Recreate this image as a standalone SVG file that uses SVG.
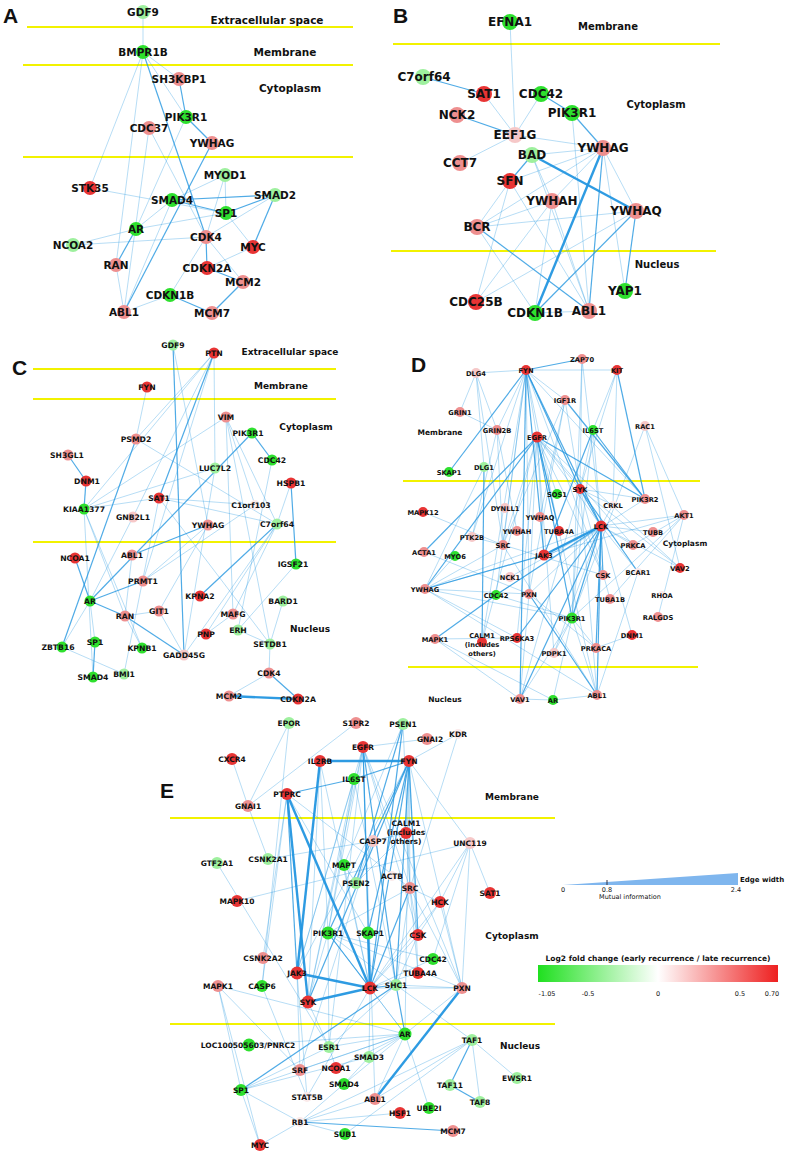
<svg xmlns="http://www.w3.org/2000/svg" width="785" height="1152" viewBox="0 0 785 1152">
<defs>
<linearGradient id="fc" x1="0" x2="1" y1="0" y2="0"><stop offset="0" stop-color="#1fe01f"/><stop offset="0.5" stop-color="#ffffff"/><stop offset="1" stop-color="#ee2020"/></linearGradient>
</defs>
<style>
text{font-family:"DejaVu Sans","Liberation Sans",sans-serif;fill:#111;text-anchor:middle}
.nl text{font-weight:bold}
.A text{font-size:10.5px}.B text{font-size:12px}.C text{font-size:7.7px}.D text{font-size:6.7px}.E text{font-size:7.5px}
.g{fill:#2ee02e}.lg{fill:#9ef09e}.r{fill:#e83434}.p{fill:#ee8f8f}.lp{fill:#f6c8c8}.w{fill:#fbeaea}
.band{stroke:#f2f200;stroke-width:2.2}
.cmp{font-size:10px;font-weight:600}
.let{font-family:"Liberation Sans",Arial,sans-serif;font-weight:bold;font-size:21px;text-anchor:start}
#edges line{stroke:#2396e0;stroke-opacity:0.6}
#edges .t{stroke-width:0.6;stroke-opacity:0.55}#edges .m{stroke-width:1.2;stroke-opacity:0.8}#edges .k{stroke-width:2.4;stroke-opacity:0.95}
</style>
<rect width="785" height="1152" fill="#fff"/>
<!-- bands -->
<g id="bands">
<line class="band" x1="27" y1="27" x2="353" y2="27"/><line class="band" x1="23" y1="65" x2="353" y2="65"/><line class="band" x1="23" y1="157" x2="353" y2="157"/>
<line class="band" x1="393" y1="44" x2="720" y2="44"/><line class="band" x1="391" y1="251" x2="716" y2="251"/>
<line class="band" x1="33" y1="369" x2="336" y2="369"/><line class="band" x1="33" y1="399" x2="336" y2="399"/><line class="band" x1="33" y1="542" x2="336" y2="542"/>
<line class="band" x1="403" y1="481" x2="700" y2="481"/><line class="band" x1="408" y1="667" x2="698" y2="667"/>
<line class="band" x1="170" y1="818" x2="555" y2="818"/><line class="band" x1="170" y1="1024" x2="555" y2="1024"/>
</g>
<g id="labels">
<text class="let" x="3" y="23">A</text><text class="let" x="393" y="23">B</text><text class="let" x="12" y="375">C</text><text class="let" x="411" y="372">D</text><text class="let" x="160" y="798">E</text>
<text class="cmp" x="267" y="24" style="font-size:10.5px">Extracellular space</text><text class="cmp" x="285" y="56" style="font-size:10.5px">Membrane</text><text class="cmp" x="290" y="92" style="font-size:10.5px">Cytoplasm</text>
<text class="cmp" x="608" y="30">Membrane</text><text class="cmp" x="656" y="108">Cytoplasm</text><text class="cmp" x="657" y="268">Nucleus</text>
<text class="cmp" x="290" y="355" style="font-size:9px">Extracellular space</text><text class="cmp" x="281" y="389" style="font-size:9px">Membrane</text><text class="cmp" x="306" y="430" style="font-size:9px">Cytoplasm</text><text class="cmp" x="310" y="632" style="font-size:9px">Nucleus</text>
<text class="cmp" x="440" y="435" style="font-size:7.5px">Membrane</text><text class="cmp" x="685" y="546" style="font-size:7.5px">Cytoplasm</text><text class="cmp" x="445" y="702" style="font-size:7.5px">Nucleus</text>
<text class="cmp" x="512" y="800" style="font-size:9px">Membrane</text><text class="cmp" x="512" y="939" style="font-size:9px">Cytoplasm</text><text class="cmp" x="520" y="1049" style="font-size:9px">Nucleus</text>
</g>
<g id="edges">
<!-- A -->
<line class="t" x1="143" y1="12" x2="143" y2="52"/><line class="t" x1="143" y1="52" x2="179" y2="79"/><line class="t" x1="143" y1="52" x2="90" y2="188"/><line class="t" x1="143" y1="52" x2="116" y2="265"/><line class="m" x1="143" y1="52" x2="206" y2="237"/><line class="t" x1="143" y1="52" x2="186" y2="117"/><line class="m" x1="179" y1="79" x2="186" y2="117"/><line class="m" x1="186" y1="117" x2="212" y2="143"/><line class="t" x1="186" y1="117" x2="136" y2="229"/><line class="t" x1="149" y1="128" x2="124" y2="312"/><line class="t" x1="149" y1="128" x2="206" y2="237"/><line class="m" x1="212" y1="143" x2="124" y2="312"/><line class="t" x1="90" y1="188" x2="226" y2="213"/><line class="m" x1="172" y1="200" x2="275" y2="195"/><line class="m" x1="172" y1="200" x2="226" y2="213"/><line class="t" x1="172" y1="200" x2="225" y2="175"/><line class="t" x1="172" y1="200" x2="136" y2="229"/><line class="m" x1="226" y1="213" x2="275" y2="195"/><line class="m" x1="275" y1="195" x2="253" y2="247"/><line class="t" x1="275" y1="195" x2="206" y2="237"/><line class="t" x1="136" y1="229" x2="226" y2="213"/><line class="t" x1="73" y1="245" x2="136" y2="229"/><line class="t" x1="73" y1="245" x2="206" y2="237"/><line class="m" x1="136" y1="229" x2="116" y2="265"/><line class="t" x1="225" y1="175" x2="226" y2="213"/><line class="t" x1="225" y1="175" x2="206" y2="237"/><line class="t" x1="226" y1="213" x2="253" y2="247"/><line class="m" x1="206" y1="237" x2="207" y2="268"/><line class="t" x1="206" y1="237" x2="243" y2="282"/><line class="m" x1="207" y1="268" x2="243" y2="282"/><line class="t" x1="253" y1="247" x2="207" y2="268"/><line class="m" x1="243" y1="282" x2="212" y2="313"/><line class="m" x1="170" y1="295" x2="212" y2="313"/><line class="t" x1="170" y1="295" x2="124" y2="312"/><line class="t" x1="206" y1="237" x2="170" y2="295"/><line class="t" x1="116" y1="265" x2="124" y2="312"/><line class="t" x1="172" y1="200" x2="124" y2="312"/>
<!-- B -->
<line class="t" x1="510" y1="22" x2="515" y2="135"/><line class="m" x1="423" y1="77" x2="484" y2="94"/><line class="t" x1="484" y1="94" x2="515" y2="135"/><line class="m" x1="457" y1="115" x2="515" y2="135"/><line class="t" x1="541" y1="94" x2="515" y2="135"/><line class="m" x1="541" y1="94" x2="572" y2="113"/><line class="t" x1="515" y1="135" x2="603" y2="148"/><line class="t" x1="515" y1="135" x2="460" y2="163"/><line class="m" x1="572" y1="113" x2="603" y2="148"/><line class="t" x1="572" y1="113" x2="589" y2="311"/><line class="t" x1="532" y1="155" x2="603" y2="148"/><line class="m" x1="532" y1="155" x2="510" y2="181"/><line class="k" x1="532" y1="155" x2="636" y2="211"/><line class="t" x1="532" y1="155" x2="552" y2="201"/><line class="t" x1="532" y1="155" x2="589" y2="311"/><line class="t" x1="603" y1="148" x2="510" y2="181"/><line class="t" x1="603" y1="148" x2="552" y2="201"/><line class="t" x1="603" y1="148" x2="636" y2="211"/><line class="t" x1="603" y1="148" x2="477" y2="227"/><line class="k" x1="603" y1="148" x2="535" y2="313"/><line class="m" x1="603" y1="148" x2="589" y2="311"/><line class="t" x1="603" y1="148" x2="625" y2="291"/><line class="t" x1="510" y1="181" x2="477" y2="227"/><line class="t" x1="510" y1="181" x2="476" y2="302"/><line class="t" x1="510" y1="181" x2="589" y2="311"/><line class="t" x1="552" y1="201" x2="477" y2="227"/><line class="t" x1="552" y1="201" x2="535" y2="313"/><line class="t" x1="552" y1="201" x2="476" y2="302"/><line class="t" x1="552" y1="201" x2="589" y2="311"/><line class="t" x1="636" y1="211" x2="477" y2="227"/><line class="m" x1="636" y1="211" x2="535" y2="313"/><line class="m" x1="636" y1="211" x2="625" y2="291"/><line class="t" x1="636" y1="211" x2="476" y2="302"/><line class="m" x1="477" y1="227" x2="589" y2="311"/><line class="t" x1="535" y1="313" x2="589" y2="311"/><line class="t" x1="477" y1="227" x2="535" y2="313"/>
<!-- C -->
<line class="m" x1="214" y1="353" x2="159" y2="498"/><line class="t" x1="214" y1="353" x2="136" y2="439"/><line class="t" x1="214" y1="353" x2="84" y2="509"/><line class="t" x1="214" y1="353" x2="215" y2="468"/><line class="t" x1="214" y1="353" x2="133" y2="517"/><line class="t" x1="214" y1="353" x2="143" y2="581"/><line class="m" x1="173" y1="345" x2="184" y2="655"/><line class="t" x1="173" y1="345" x2="208" y2="525"/><line class="t" x1="147" y1="387" x2="136" y2="439"/><line class="m" x1="136" y1="439" x2="62" y2="647"/><line class="t" x1="136" y1="439" x2="277" y2="524"/><line class="m" x1="68" y1="455" x2="86" y2="481"/><line class="m" x1="86" y1="481" x2="84" y2="509"/><line class="t" x1="84" y1="509" x2="226" y2="417"/><line class="t" x1="84" y1="509" x2="215" y2="468"/><line class="t" x1="84" y1="509" x2="159" y2="498"/><line class="t" x1="84" y1="509" x2="125" y2="616"/><line class="t" x1="84" y1="509" x2="93" y2="677"/><line class="t" x1="84" y1="509" x2="142" y2="648"/><line class="t" x1="226" y1="417" x2="233" y2="614"/><line class="t" x1="226" y1="417" x2="270" y2="644"/><line class="t" x1="226" y1="417" x2="277" y2="524"/><line class="t" x1="226" y1="417" x2="255" y2="505"/><line class="m" x1="252" y1="433" x2="272" y2="460"/><line class="m" x1="252" y1="433" x2="90" y2="601"/><line class="t" x1="272" y1="460" x2="238" y2="630"/><line class="m" x1="291" y1="483" x2="296" y2="564"/><line class="t" x1="291" y1="483" x2="277" y2="524"/><line class="t" x1="159" y1="498" x2="255" y2="505"/><line class="t" x1="159" y1="498" x2="277" y2="524"/><line class="t" x1="159" y1="498" x2="270" y2="644"/><line class="t" x1="159" y1="498" x2="124" y2="674"/><line class="m" x1="208" y1="525" x2="132" y2="555"/><line class="t" x1="208" y1="525" x2="159" y2="611"/><line class="t" x1="208" y1="525" x2="143" y2="581"/><line class="m" x1="277" y1="524" x2="200" y2="596"/><line class="t" x1="277" y1="524" x2="206" y2="634"/><line class="t" x1="277" y1="524" x2="233" y2="614"/><line class="t" x1="277" y1="524" x2="184" y2="655"/><line class="t" x1="255" y1="505" x2="143" y2="581"/><line class="m" x1="75" y1="558" x2="90" y2="601"/><line class="m" x1="90" y1="601" x2="143" y2="581"/><line class="m" x1="90" y1="601" x2="125" y2="616"/><line class="t" x1="90" y1="601" x2="95" y2="642"/><line class="t" x1="90" y1="601" x2="62" y2="647"/><line class="m" x1="125" y1="616" x2="184" y2="655"/><line class="t" x1="125" y1="616" x2="159" y2="611"/><line class="t" x1="125" y1="616" x2="142" y2="648"/><line class="m" x1="95" y1="642" x2="93" y2="677"/><line class="t" x1="62" y1="647" x2="124" y2="674"/><line class="t" x1="132" y1="555" x2="125" y2="616"/><line class="t" x1="296" y1="564" x2="238" y2="630"/><line class="t" x1="283" y1="601" x2="270" y2="644"/><line class="t" x1="238" y1="630" x2="270" y2="644"/><line class="t" x1="270" y1="644" x2="269" y2="673"/><line class="t" x1="269" y1="673" x2="229" y2="696"/><line class="m" x1="269" y1="673" x2="298" y2="699"/><line class="k" x1="229" y1="696" x2="298" y2="699"/><line class="t" x1="206" y1="634" x2="233" y2="614"/><line class="t" x1="133" y1="517" x2="90" y2="601"/><line class="t" x1="215" y1="468" x2="184" y2="655"/><line class="t" x1="159" y1="611" x2="184" y2="655"/>
<!-- D -->
<line class="t" x1="526" y1="370" x2="476" y2="373"/><line class="m" x1="526" y1="370" x2="582" y2="359"/><line class="t" x1="526" y1="370" x2="617" y2="370"/><line class="t" x1="526" y1="370" x2="565" y2="400"/><line class="m" x1="526" y1="370" x2="449" y2="472"/><line class="t" x1="526" y1="370" x2="497" y2="430"/><line class="t" x1="526" y1="370" x2="537" y2="437"/><line class="m" x1="526" y1="370" x2="580" y2="489"/><line class="m" x1="526" y1="370" x2="601" y2="526"/><line class="t" x1="526" y1="370" x2="503" y2="545"/><line class="t" x1="526" y1="370" x2="496" y2="595"/><line class="m" x1="526" y1="370" x2="544" y2="555"/><line class="t" x1="526" y1="370" x2="529" y2="594"/><line class="m" x1="526" y1="370" x2="520" y2="699"/><line class="t" x1="526" y1="370" x2="645" y2="499"/><line class="t" x1="526" y1="370" x2="603" y2="575"/><line class="t" x1="526" y1="370" x2="472" y2="537"/><line class="t" x1="526" y1="370" x2="482" y2="642"/><line class="t" x1="526" y1="370" x2="559" y2="531"/><line class="t" x1="582" y1="359" x2="601" y2="526"/><line class="t" x1="582" y1="359" x2="580" y2="489"/><line class="t" x1="582" y1="359" x2="572" y2="618"/><line class="m" x1="617" y1="370" x2="645" y2="499"/><line class="t" x1="617" y1="370" x2="580" y2="489"/><line class="t" x1="617" y1="370" x2="593" y2="430"/><line class="t" x1="617" y1="370" x2="613" y2="505"/><line class="t" x1="476" y1="373" x2="460" y2="412"/><line class="t" x1="476" y1="373" x2="497" y2="430"/><line class="t" x1="476" y1="373" x2="503" y2="545"/><line class="t" x1="476" y1="373" x2="484" y2="467"/><line class="t" x1="460" y1="412" x2="497" y2="430"/><line class="t" x1="497" y1="430" x2="503" y2="545"/><line class="t" x1="497" y1="430" x2="472" y2="537"/><line class="t" x1="497" y1="430" x2="517" y2="531"/><line class="m" x1="565" y1="400" x2="645" y2="499"/><line class="t" x1="565" y1="400" x2="580" y2="489"/><line class="t" x1="565" y1="400" x2="529" y2="594"/><line class="t" x1="565" y1="400" x2="540" y2="517"/><line class="t" x1="565" y1="400" x2="503" y2="545"/><line class="m" x1="537" y1="437" x2="425" y2="589"/><line class="m" x1="537" y1="437" x2="424" y2="552"/><line class="t" x1="537" y1="437" x2="580" y2="489"/><line class="m" x1="537" y1="437" x2="645" y2="499"/><line class="t" x1="537" y1="437" x2="601" y2="526"/><line class="t" x1="537" y1="437" x2="529" y2="594"/><line class="t" x1="537" y1="437" x2="503" y2="545"/><line class="t" x1="537" y1="437" x2="544" y2="555"/><line class="m" x1="537" y1="437" x2="572" y2="618"/><line class="t" x1="537" y1="437" x2="603" y2="575"/><line class="m" x1="537" y1="437" x2="559" y2="531"/><line class="t" x1="537" y1="437" x2="597" y2="695"/><line class="t" x1="537" y1="437" x2="680" y2="568"/><line class="t" x1="537" y1="437" x2="554" y2="653"/><line class="t" x1="537" y1="437" x2="633" y2="545"/><line class="t" x1="537" y1="437" x2="557" y2="494"/><line class="t" x1="537" y1="437" x2="482" y2="642"/><line class="t" x1="537" y1="437" x2="517" y2="638"/><line class="t" x1="593" y1="430" x2="580" y2="489"/><line class="m" x1="593" y1="430" x2="544" y2="555"/><line class="t" x1="593" y1="430" x2="572" y2="618"/><line class="m" x1="593" y1="430" x2="645" y2="499"/><line class="t" x1="593" y1="430" x2="601" y2="526"/><line class="t" x1="645" y1="426" x2="684" y2="515"/><line class="t" x1="645" y1="426" x2="680" y2="568"/><line class="t" x1="645" y1="426" x2="572" y2="618"/><line class="m" x1="484" y1="467" x2="482" y2="642"/><line class="t" x1="484" y1="467" x2="425" y2="589"/><line class="k" x1="601" y1="526" x2="544" y2="555"/><line class="m" x1="601" y1="526" x2="580" y2="489"/><line class="m" x1="601" y1="526" x2="572" y2="618"/><line class="m" x1="601" y1="526" x2="603" y2="575"/><line class="m" x1="601" y1="526" x2="596" y2="648"/><line class="m" x1="601" y1="526" x2="597" y2="695"/><line class="m" x1="601" y1="526" x2="520" y2="699"/><line class="t" x1="601" y1="526" x2="529" y2="594"/><line class="m" x1="601" y1="526" x2="496" y2="595"/><line class="t" x1="601" y1="526" x2="425" y2="589"/><line class="t" x1="601" y1="526" x2="684" y2="515"/><line class="t" x1="601" y1="526" x2="633" y2="545"/><line class="t" x1="601" y1="526" x2="653" y2="532"/><line class="t" x1="601" y1="526" x2="632" y2="635"/><line class="t" x1="601" y1="526" x2="613" y2="505"/><line class="t" x1="601" y1="526" x2="680" y2="568"/><line class="t" x1="601" y1="526" x2="638" y2="572"/><line class="t" x1="601" y1="526" x2="510" y2="577"/><line class="m" x1="601" y1="526" x2="517" y2="638"/><line class="t" x1="601" y1="526" x2="554" y2="653"/><line class="t" x1="580" y1="489" x2="645" y2="499"/><line class="t" x1="580" y1="489" x2="680" y2="568"/><line class="m" x1="580" y1="489" x2="638" y2="572"/><line class="t" x1="580" y1="489" x2="597" y2="695"/><line class="t" x1="580" y1="489" x2="572" y2="618"/><line class="t" x1="580" y1="489" x2="610" y2="599"/><line class="t" x1="580" y1="489" x2="520" y2="699"/><line class="t" x1="580" y1="489" x2="613" y2="505"/><line class="t" x1="684" y1="515" x2="633" y2="545"/><line class="t" x1="684" y1="515" x2="425" y2="589"/><line class="t" x1="684" y1="515" x2="572" y2="618"/><line class="t" x1="684" y1="515" x2="610" y2="599"/><line class="t" x1="684" y1="515" x2="658" y2="617"/><line class="t" x1="425" y1="589" x2="503" y2="545"/><line class="m" x1="425" y1="589" x2="544" y2="555"/><line class="t" x1="425" y1="589" x2="529" y2="594"/><line class="t" x1="425" y1="589" x2="572" y2="618"/><line class="t" x1="425" y1="589" x2="455" y2="556"/><line class="t" x1="425" y1="589" x2="597" y2="695"/><line class="t" x1="425" y1="589" x2="517" y2="638"/><line class="t" x1="572" y1="618" x2="496" y2="595"/><line class="t" x1="572" y1="618" x2="597" y2="695"/><line class="t" x1="572" y1="618" x2="520" y2="699"/><line class="t" x1="572" y1="618" x2="554" y2="653"/><line class="t" x1="572" y1="618" x2="596" y2="648"/><line class="m" x1="496" y1="595" x2="435" y2="639"/><line class="t" x1="496" y1="595" x2="645" y2="499"/><line class="m" x1="529" y1="594" x2="597" y2="695"/><line class="t" x1="529" y1="594" x2="596" y2="648"/><line class="t" x1="529" y1="594" x2="424" y2="552"/><line class="t" x1="529" y1="594" x2="520" y2="699"/><line class="t" x1="503" y1="545" x2="597" y2="695"/><line class="t" x1="503" y1="545" x2="603" y2="575"/><line class="t" x1="503" y1="545" x2="472" y2="537"/><line class="t" x1="503" y1="545" x2="423" y2="512"/><line class="t" x1="435" y1="639" x2="520" y2="699"/><line class="t" x1="435" y1="639" x2="553" y2="700"/><line class="t" x1="435" y1="639" x2="517" y2="638"/><line class="t" x1="553" y1="700" x2="520" y2="699"/><line class="t" x1="553" y1="700" x2="597" y2="695"/><line class="t" x1="553" y1="700" x2="572" y2="618"/><line class="t" x1="632" y1="635" x2="596" y2="648"/><line class="t" x1="638" y1="572" x2="597" y2="695"/>
<!-- E -->
<line class="t" x1="289" y1="723" x2="248" y2="806"/><line class="t" x1="289" y1="723" x2="262" y2="986"/><line class="t" x1="356" y1="723" x2="248" y2="806"/><line class="t" x1="403" y1="724" x2="410" y2="888"/><line class="m" x1="403" y1="724" x2="356" y2="883"/><line class="t" x1="403" y1="724" x2="344" y2="865"/><line class="m" x1="403" y1="724" x2="370" y2="988"/><line class="t" x1="427" y1="739" x2="363" y2="747"/><line class="t" x1="458" y1="734" x2="409" y2="761"/><line class="t" x1="458" y1="734" x2="410" y2="888"/><line class="t" x1="363" y1="747" x2="308" y2="1002"/><line class="t" x1="363" y1="747" x2="297" y2="973"/><line class="m" x1="363" y1="747" x2="370" y2="988"/><line class="t" x1="363" y1="747" x2="328" y2="933"/><line class="t" x1="363" y1="747" x2="368" y2="933"/><line class="t" x1="363" y1="747" x2="418" y2="935"/><line class="t" x1="363" y1="747" x2="410" y2="888"/><line class="t" x1="363" y1="747" x2="462" y2="988"/><line class="t" x1="363" y1="747" x2="375" y2="1099"/><line class="m" x1="363" y1="747" x2="396" y2="985"/><line class="t" x1="363" y1="747" x2="329" y2="1047"/><line class="t" x1="232" y1="759" x2="248" y2="806"/><line class="k" x1="320" y1="761" x2="409" y2="761"/><line class="k" x1="320" y1="761" x2="297" y2="973"/><line class="t" x1="320" y1="761" x2="370" y2="988"/><line class="t" x1="320" y1="761" x2="308" y2="1002"/><line class="t" x1="320" y1="761" x2="328" y2="933"/><line class="m" x1="409" y1="761" x2="354" y2="779"/><line class="m" x1="409" y1="761" x2="370" y2="988"/><line class="m" x1="409" y1="761" x2="308" y2="1002"/><line class="m" x1="409" y1="761" x2="368" y2="933"/><line class="m" x1="409" y1="761" x2="418" y2="935"/><line class="t" x1="409" y1="761" x2="410" y2="888"/><line class="t" x1="409" y1="761" x2="462" y2="988"/><line class="m" x1="409" y1="761" x2="396" y2="985"/><line class="t" x1="409" y1="761" x2="406" y2="833"/><line class="m" x1="409" y1="761" x2="328" y2="933"/><line class="t" x1="409" y1="761" x2="470" y2="843"/><line class="t" x1="409" y1="761" x2="297" y2="973"/><line class="t" x1="409" y1="761" x2="405" y2="1034"/><line class="t" x1="409" y1="761" x2="418" y2="973"/><line class="m" x1="354" y1="779" x2="287" y2="794"/><line class="t" x1="354" y1="779" x2="297" y2="973"/><line class="t" x1="354" y1="779" x2="396" y2="985"/><line class="t" x1="354" y1="779" x2="328" y2="933"/><line class="t" x1="354" y1="779" x2="308" y2="1002"/><line class="k" x1="287" y1="794" x2="370" y2="988"/><line class="k" x1="287" y1="794" x2="308" y2="1002"/><line class="m" x1="287" y1="794" x2="297" y2="973"/><line class="t" x1="287" y1="794" x2="368" y2="933"/><line class="t" x1="287" y1="794" x2="262" y2="986"/><line class="t" x1="287" y1="794" x2="263" y2="958"/><line class="t" x1="287" y1="794" x2="410" y2="888"/><line class="t" x1="248" y1="806" x2="268" y2="859"/><line class="t" x1="406" y1="833" x2="356" y2="883"/><line class="t" x1="406" y1="833" x2="373" y2="841"/><line class="t" x1="406" y1="833" x2="410" y2="888"/><line class="t" x1="373" y1="841" x2="268" y2="859"/><line class="t" x1="373" y1="841" x2="356" y2="883"/><line class="t" x1="373" y1="841" x2="300" y2="1070"/><line class="t" x1="470" y1="843" x2="370" y2="988"/><line class="t" x1="470" y1="843" x2="490" y2="893"/><line class="t" x1="470" y1="843" x2="440" y2="902"/><line class="t" x1="470" y1="843" x2="462" y2="988"/><line class="t" x1="470" y1="843" x2="237" y2="901"/><line class="t" x1="470" y1="843" x2="433" y2="959"/><line class="t" x1="217" y1="863" x2="329" y2="1047"/><line class="t" x1="344" y1="865" x2="356" y2="883"/><line class="t" x1="344" y1="865" x2="370" y2="988"/><line class="m" x1="410" y1="888" x2="370" y2="988"/><line class="t" x1="410" y1="888" x2="418" y2="935"/><line class="t" x1="410" y1="888" x2="440" y2="902"/><line class="t" x1="410" y1="888" x2="396" y2="985"/><line class="t" x1="410" y1="888" x2="328" y2="933"/><line class="t" x1="410" y1="888" x2="418" y2="973"/><line class="t" x1="410" y1="888" x2="462" y2="988"/><line class="t" x1="440" y1="902" x2="370" y2="988"/><line class="t" x1="440" y1="902" x2="418" y2="935"/><line class="t" x1="440" y1="902" x2="462" y2="988"/><line class="m" x1="328" y1="933" x2="370" y2="988"/><line class="t" x1="328" y1="933" x2="396" y2="985"/><line class="t" x1="328" y1="933" x2="433" y2="959"/><line class="t" x1="328" y1="933" x2="308" y2="1002"/><line class="t" x1="328" y1="933" x2="329" y2="1047"/><line class="t" x1="328" y1="933" x2="405" y2="1034"/><line class="t" x1="328" y1="933" x2="462" y2="988"/><line class="k" x1="368" y1="933" x2="370" y2="988"/><line class="t" x1="418" y1="935" x2="370" y2="988"/><line class="t" x1="418" y1="935" x2="396" y2="985"/><line class="k" x1="370" y1="988" x2="297" y2="973"/><line class="k" x1="370" y1="988" x2="308" y2="1002"/><line class="m" x1="370" y1="988" x2="396" y2="985"/><line class="t" x1="370" y1="988" x2="462" y2="988"/><line class="t" x1="370" y1="988" x2="405" y2="1034"/><line class="t" x1="370" y1="988" x2="433" y2="959"/><line class="t" x1="370" y1="988" x2="418" y2="973"/><line class="t" x1="370" y1="988" x2="307" y2="1097"/><line class="t" x1="370" y1="988" x2="369" y2="1057"/><line class="m" x1="396" y1="985" x2="405" y2="1034"/><line class="t" x1="396" y1="985" x2="462" y2="988"/><line class="m" x1="396" y1="985" x2="241" y2="1090"/><line class="t" x1="396" y1="985" x2="472" y2="1040"/><line class="t" x1="396" y1="985" x2="329" y2="1047"/><line class="k" x1="462" y1="988" x2="375" y2="1099"/><line class="t" x1="462" y1="988" x2="405" y2="1034"/><line class="t" x1="218" y1="986" x2="405" y2="1034"/><line class="t" x1="218" y1="986" x2="241" y2="1090"/><line class="t" x1="218" y1="986" x2="300" y2="1070"/><line class="t" x1="218" y1="986" x2="260" y2="1145"/><line class="t" x1="262" y1="986" x2="307" y2="1097"/><line class="t" x1="297" y1="973" x2="307" y2="1097"/><line class="t" x1="297" y1="973" x2="300" y2="1070"/><line class="t" x1="308" y1="1002" x2="329" y2="1047"/><line class="t" x1="405" y1="1034" x2="249" y2="1045"/><line class="t" x1="405" y1="1034" x2="329" y2="1047"/><line class="t" x1="405" y1="1034" x2="369" y2="1057"/><line class="t" x1="405" y1="1034" x2="300" y2="1070"/><line class="t" x1="405" y1="1034" x2="241" y2="1090"/><line class="t" x1="405" y1="1034" x2="336" y2="1068"/><line class="t" x1="405" y1="1034" x2="344" y2="1084"/><line class="t" x1="405" y1="1034" x2="429" y2="1108"/><line class="t" x1="405" y1="1034" x2="375" y2="1099"/><line class="m" x1="472" y1="1040" x2="450" y2="1085"/><line class="t" x1="472" y1="1040" x2="480" y2="1102"/><line class="t" x1="472" y1="1040" x2="517" y2="1078"/><line class="t" x1="472" y1="1040" x2="300" y2="1122"/><line class="t" x1="472" y1="1040" x2="375" y2="1099"/><line class="t" x1="472" y1="1040" x2="345" y2="1134"/><line class="m" x1="450" y1="1085" x2="480" y2="1102"/><line class="t" x1="241" y1="1090" x2="300" y2="1122"/><line class="t" x1="241" y1="1090" x2="260" y2="1145"/><line class="t" x1="241" y1="1090" x2="329" y2="1047"/><line class="t" x1="241" y1="1090" x2="369" y2="1057"/><line class="m" x1="300" y1="1122" x2="453" y2="1131"/><line class="t" x1="300" y1="1122" x2="260" y2="1145"/><line class="t" x1="300" y1="1122" x2="375" y2="1099"/><line class="t" x1="300" y1="1122" x2="345" y2="1134"/><line class="t" x1="300" y1="1122" x2="400" y2="1113"/><line class="t" x1="300" y1="1122" x2="344" y2="1084"/><line class="t" x1="329" y1="1047" x2="336" y2="1068"/><line class="t" x1="369" y1="1057" x2="344" y2="1084"/>
</g>
<!-- Panel A nodes -->
<g class="nl A">
<g id="A_GDF9"><circle class="lg" cx="143" cy="12" r="7"/><text x="143" y="16">GDF9</text></g>
<g id="A_BMPR1B"><circle class="g" cx="143" cy="52" r="7"/><text x="143" y="56">BMPR1B</text></g>
<g id="A_SH3KBP1"><circle class="p" cx="179" cy="79" r="7"/><text x="179" y="83">SH3KBP1</text></g>
<g id="A_PIK3R1"><circle class="g" cx="186" cy="117" r="7"/><text x="186" y="121">PIK3R1</text></g>
<g id="A_CDC37"><circle class="p" cx="149" cy="128" r="7"/><text x="149" y="132">CDC37</text></g>
<g id="A_YWHAG"><circle class="p" cx="212" cy="143" r="7"/><text x="212" y="147">YWHAG</text></g>
<g id="A_STK35"><circle class="r" cx="90" cy="188" r="7"/><text x="90" y="192">STK35</text></g>
<g id="A_MYOD1"><circle class="lg" cx="225" cy="175" r="7"/><text x="225" y="179">MYOD1</text></g>
<g id="A_SMAD4"><circle class="g" cx="172" cy="200" r="7"/><text x="172" y="204">SMAD4</text></g>
<g id="A_SMAD2"><circle class="lg" cx="275" cy="195" r="7"/><text x="275" y="199">SMAD2</text></g>
<g id="A_SP1"><circle class="g" cx="226" cy="213" r="7"/><text x="226" y="217">SP1</text></g>
<g id="A_AR"><circle class="g" cx="136" cy="229" r="7"/><text x="136" y="233">AR</text></g>
<g id="A_NCOA2"><circle class="lg" cx="73" cy="245" r="7"/><text x="73" y="249">NCOA2</text></g>
<g id="A_CDK4"><circle class="p" cx="206" cy="237" r="7"/><text x="206" y="241">CDK4</text></g>
<g id="A_MYC"><circle class="r" cx="253" cy="247" r="7"/><text x="253" y="251">MYC</text></g>
<g id="A_RAN"><circle class="p" cx="116" cy="265" r="7"/><text x="116" y="269">RAN</text></g>
<g id="A_CDKN2A"><circle class="r" cx="207" cy="268" r="7"/><text x="207" y="272">CDKN2A</text></g>
<g id="A_MCM2"><circle class="p" cx="243" cy="282" r="7"/><text x="243" y="286">MCM2</text></g>
<g id="A_CDKN1B"><circle class="g" cx="170" cy="295" r="7"/><text x="170" y="299">CDKN1B</text></g>
<g id="A_ABL1"><circle class="p" cx="124" cy="312" r="7"/><text x="124" y="316">ABL1</text></g>
<g id="A_MCM7"><circle class="p" cx="212" cy="313" r="7"/><text x="212" y="317">MCM7</text></g>
</g>
<!-- Panel B nodes -->
<g class="nl B">
<g id="B_EFNA1"><circle class="g" cx="510" cy="22" r="8"/><text x="510" y="26">EFNA1</text></g>
<g id="B_C7orf64"><circle class="lg" cx="423" cy="77" r="8"/><text x="424" y="81" style="font-weight:600">C7orf64</text></g>
<g id="B_SAT1"><circle class="r" cx="484" cy="94" r="8"/><text x="484" y="98">SAT1</text></g>
<g id="B_CDC42"><circle class="g" cx="541" cy="94" r="8"/><text x="541" y="98">CDC42</text></g>
<g id="B_NCK2"><circle class="p" cx="457" cy="115" r="8"/><text x="457" y="119">NCK2</text></g>
<g id="B_PIK3R1"><circle class="g" cx="572" cy="113" r="8"/><text x="572" y="117">PIK3R1</text></g>
<g id="B_EEF1G"><circle class="lp" cx="515" cy="135" r="8"/><text x="515" y="139">EEF1G</text></g>
<g id="B_YWHAG"><circle class="p" cx="603" cy="148" r="8"/><text x="603" y="152">YWHAG</text></g>
<g id="B_BAD"><circle class="lg" cx="532" cy="155" r="8"/><text x="532" y="159">BAD</text></g>
<g id="B_CCT7"><circle class="p" cx="460" cy="163" r="8"/><text x="460" y="167">CCT7</text></g>
<g id="B_SFN"><circle class="r" cx="510" cy="181" r="8"/><text x="510" y="185">SFN</text></g>
<g id="B_YWHAH"><circle class="p" cx="552" cy="201" r="8"/><text x="552" y="205">YWHAH</text></g>
<g id="B_YWHAQ"><circle class="p" cx="636" cy="211" r="8"/><text x="636" y="215">YWHAQ</text></g>
<g id="B_BCR"><circle class="p" cx="477" cy="227" r="8"/><text x="477" y="231">BCR</text></g>
<g id="B_YAP1"><circle class="g" cx="625" cy="291" r="8"/><text x="625" y="295">YAP1</text></g>
<g id="B_CDC25B"><circle class="r" cx="476" cy="302" r="8"/><text x="476" y="306">CDC25B</text></g>
<g id="B_CDKN1B"><circle class="g" cx="535" cy="313" r="8"/><text x="535" y="317">CDKN1B</text></g>
<g id="B_ABL1"><circle class="p" cx="589" cy="311" r="8"/><text x="589" y="315">ABL1</text></g>
</g>
<!-- Panel C nodes -->
<g class="nl C">
<g id="C_GDF9"><circle class="lg" cx="173" cy="345" r="5.5"/><text x="173" y="348">GDF9</text></g>
<g id="C_PTN"><circle class="r" cx="214" cy="353" r="5.5"/><text x="214" y="356">PTN</text></g>
<g id="C_FYN"><circle class="r" cx="147" cy="387" r="5.5"/><text x="147" y="390">FYN</text></g>
<g id="C_VIM"><circle class="p" cx="226" cy="417" r="5.5"/><text x="226" y="420">VIM</text></g>
<g id="C_PIK3R1"><circle class="g" cx="252" cy="433" r="5.5"/><text x="248" y="436">PIK3R1</text></g>
<g id="C_PSMD2"><circle class="p" cx="136" cy="439" r="5.5"/><text x="136" y="442">PSMD2</text></g>
<g id="C_SH3GL1"><circle class="p" cx="68" cy="455" r="5.5"/><text x="67" y="458">SH3GL1</text></g>
<g id="C_CDC42"><circle class="g" cx="272" cy="460" r="5.5"/><text x="272" y="463">CDC42</text></g>
<g id="C_LUC7L2"><circle class="lg" cx="215" cy="468" r="5.5"/><text x="215" y="471">LUC7L2</text></g>
<g id="C_DNM1"><circle class="r" cx="86" cy="481" r="5.5"/><text x="87" y="484">DNM1</text></g>
<g id="C_HSPB1"><circle class="r" cx="291" cy="483" r="5.5"/><text x="291" y="486">HSPB1</text></g>
<g id="C_SAT1"><circle class="r" cx="159" cy="498" r="5.5"/><text x="159" y="501">SAT1</text></g>
<g id="C_KIAA1377"><circle class="g" cx="84" cy="509" r="5.5"/><text x="84" y="512">KIAA1377</text></g>
<g id="C_C1orf103"><circle class="w" cx="255" cy="505" r="5"/><text x="251" y="508">C1orf103</text></g>
<g id="C_GNB2L1"><circle class="lp" cx="133" cy="517" r="5.5"/><text x="133" y="520">GNB2L1</text></g>
<g id="C_YWHAG"><circle class="p" cx="208" cy="525" r="5.5"/><text x="208" y="528">YWHAG</text></g>
<g id="C_C7orf64"><circle class="lg" cx="277" cy="524" r="5.5"/><text x="277" y="527">C7orf64</text></g>
<g id="C_NCOA1"><circle class="r" cx="75" cy="558" r="5.5"/><text x="75" y="561">NCOA1</text></g>
<g id="C_ABL1"><circle class="p" cx="132" cy="555" r="5.5"/><text x="132" y="558">ABL1</text></g>
<g id="C_IGSF21"><circle class="g" cx="296" cy="564" r="5.5"/><text x="293" y="567">IGSF21</text></g>
<g id="C_PRMT1"><circle class="p" cx="143" cy="581" r="5.5"/><text x="143" y="584">PRMT1</text></g>
<g id="C_KPNA2"><circle class="r" cx="200" cy="596" r="5.5"/><text x="200" y="599">KPNA2</text></g>
<g id="C_AR"><circle class="g" cx="90" cy="601" r="5.5"/><text x="90" y="604">AR</text></g>
<g id="C_BARD1"><circle class="lg" cx="283" cy="601" r="5.5"/><text x="283" y="604">BARD1</text></g>
<g id="C_RAN"><circle class="p" cx="125" cy="616" r="5.5"/><text x="125" y="619">RAN</text></g>
<g id="C_GIT1"><circle class="p" cx="159" cy="611" r="5.5"/><text x="159" y="614">GIT1</text></g>
<g id="C_MAFG"><circle class="p" cx="233" cy="614" r="5.5"/><text x="233" y="617">MAFG</text></g>
<g id="C_PNP"><circle class="r" cx="206" cy="634" r="5.5"/><text x="206" y="637">PNP</text></g>
<g id="C_ERH"><circle class="lg" cx="238" cy="630" r="5.5"/><text x="238" y="633">ERH</text></g>
<g id="C_SETDB1"><circle class="lg" cx="270" cy="644" r="5.5"/><text x="270" y="647">SETDB1</text></g>
<g id="C_ZBTB16"><circle class="g" cx="62" cy="647" r="5.5"/><text x="58" y="650">ZBTB16</text></g>
<g id="C_SP1"><circle class="g" cx="95" cy="642" r="5.5"/><text x="95" y="645">SP1</text></g>
<g id="C_KPNB1"><circle class="g" cx="142" cy="648" r="5.5"/><text x="142" y="651">KPNB1</text></g>
<g id="C_GADD45G"><circle class="lp" cx="184" cy="655" r="5.5"/><text x="184" y="658">GADD45G</text></g>
<g id="C_SMAD4"><circle class="g" cx="93" cy="677" r="5.5"/><text x="93" y="680">SMAD4</text></g>
<g id="C_BMI1"><circle class="lg" cx="124" cy="674" r="5.5"/><text x="124" y="677">BMI1</text></g>
<g id="C_CDK4"><circle class="p" cx="269" cy="673" r="5.5"/><text x="269" y="676">CDK4</text></g>
<g id="C_MCM2"><circle class="p" cx="229" cy="696" r="5.5"/><text x="229" y="699">MCM2</text></g>
<g id="C_CDKN2A"><circle class="r" cx="298" cy="699" r="5.5"/><text x="298" y="702">CDKN2A</text></g>
</g>
<!-- Panel D nodes -->
<g class="nl D">
<g id="D_DLG4"><circle class="lp" cx="476" cy="373" r="5"/><text x="476" y="376">DLG4</text></g>
<g id="D_FYN"><circle class="r" cx="526" cy="370" r="5"/><text x="526" y="373">FYN</text></g>
<g id="D_ZAP70"><circle class="p" cx="582" cy="359" r="5"/><text x="582" y="362">ZAP70</text></g>
<g id="D_KIT"><circle class="r" cx="617" cy="370" r="5"/><text x="617" y="373">KIT</text></g>
<g id="D_IGF1R"><circle class="p" cx="565" cy="400" r="5"/><text x="565" y="403">IGF1R</text></g>
<g id="D_GRIN1"><circle class="p" cx="460" cy="412" r="5"/><text x="460" y="415">GRIN1</text></g>
<g id="D_GRIN2B"><circle class="p" cx="497" cy="430" r="5"/><text x="497" y="433">GRIN2B</text></g>
<g id="D_EGFR"><circle class="r" cx="537" cy="437" r="5.5"/><text x="537" y="440">EGFR</text></g>
<g id="D_IL6ST"><circle class="g" cx="593" cy="430" r="5"/><text x="593" y="433">IL6ST</text></g>
<g id="D_RAC1"><circle class="lp" cx="645" cy="426" r="5"/><text x="645" y="429">RAC1</text></g>
<g id="D_SKAP1"><circle class="g" cx="449" cy="472" r="5"/><text x="449" y="475">SKAP1</text></g>
<g id="D_DLG1"><circle class="lg" cx="484" cy="467" r="5"/><text x="484" y="470">DLG1</text></g>
<g id="D_SOS1"><circle class="g" cx="557" cy="494" r="5"/><text x="557" y="497">SOS1</text></g>
<g id="D_SYK"><circle class="r" cx="580" cy="489" r="5"/><text x="580" y="492">SYK</text></g>
<g id="D_PIK3R2"><circle class="p" cx="645" cy="499" r="5"/><text x="645" y="502">PIK3R2</text></g>
<g id="D_CRKL"><circle class="w" cx="613" cy="505" r="4"/><text x="613" y="508">CRKL</text></g>
<g id="D_MAPK12"><circle class="r" cx="423" cy="512" r="5"/><text x="423" y="515">MAPK12</text></g>
<g id="D_DYNLL1"><circle class="lp" cx="505" cy="508" r="5"/><text x="505" y="511">DYNLL1</text></g>
<g id="D_AKT1"><circle class="p" cx="684" cy="515" r="5"/><text x="684" y="518">AKT1</text></g>
<g id="D_YWHAQ"><circle class="p" cx="540" cy="517" r="5"/><text x="540" y="520">YWHAQ</text></g>
<g id="D_LCK"><circle class="r" cx="601" cy="526" r="5.5"/><text x="601" y="529">LCK</text></g>
<g id="D_YWHAH"><circle class="p" cx="517" cy="531" r="5"/><text x="517" y="534">YWHAH</text></g>
<g id="D_TUBA4A"><circle class="r" cx="559" cy="531" r="5"/><text x="559" y="534">TUBA4A</text></g>
<g id="D_TUBB"><circle class="p" cx="653" cy="532" r="5"/><text x="653" y="535">TUBB</text></g>
<g id="D_PTK2B"><circle class="lp" cx="472" cy="537" r="5"/><text x="472" y="540">PTK2B</text></g>
<g id="D_SRC"><circle class="p" cx="503" cy="545" r="5"/><text x="503" y="548">SRC</text></g>
<g id="D_PRKCA"><circle class="p" cx="633" cy="545" r="5"/><text x="633" y="548">PRKCA</text></g>
<g id="D_ACTA1"><circle class="p" cx="424" cy="552" r="5"/><text x="424" y="555">ACTA1</text></g>
<g id="D_MYO6"><circle class="g" cx="455" cy="556" r="5"/><text x="455" y="559">MYO6</text></g>
<g id="D_JAK3"><circle class="r" cx="544" cy="555" r="5.5"/><text x="544" y="558">JAK3</text></g>
<g id="D_CSK"><circle class="p" cx="603" cy="575" r="5"/><text x="603" y="578">CSK</text></g>
<g id="D_BCAR1"><circle class="w" cx="638" cy="572" r="4"/><text x="638" y="575">BCAR1</text></g>
<g id="D_VAV2"><circle class="r" cx="680" cy="568" r="5"/><text x="680" y="571">VAV2</text></g>
<g id="D_NCK1"><circle class="lp" cx="510" cy="577" r="5"/><text x="510" y="580">NCK1</text></g>
<g id="D_YWHAG"><circle class="p" cx="425" cy="589" r="5"/><text x="425" y="592">YWHAG</text></g>
<g id="D_CDC42"><circle class="g" cx="496" cy="595" r="5"/><text x="496" y="598">CDC42</text></g>
<g id="D_PXN"><circle class="p" cx="529" cy="594" r="5"/><text x="529" y="597">PXN</text></g>
<g id="D_RHOA"><circle class="w" cx="662" cy="595" r="4"/><text x="662" y="598">RHOA</text></g>
<g id="D_TUBA1B"><circle class="p" cx="610" cy="599" r="5"/><text x="610" y="602">TUBA1B</text></g>
<g id="D_RALGDS"><circle class="p" cx="658" cy="617" r="5"/><text x="658" y="620">RALGDS</text></g>
<g id="D_PIK3R1"><circle class="g" cx="572" cy="618" r="5.5"/><text x="572" y="621">PIK3R1</text></g>
<g id="D_DNM1"><circle class="r" cx="632" cy="635" r="5"/><text x="632" y="638">DNM1</text></g>
<g id="D_MAPK1"><circle class="p" cx="435" cy="639" r="5"/><text x="435" y="642">MAPK1</text></g>
<g id="D_CALM1"><circle class="r" cx="482" cy="642" r="5"/><text x="482" y="638">CALM1</text><text x="482" y="647">(includes</text><text x="482" y="656">others)</text></g>
<g id="D_RPS6KA3"><circle class="r" cx="517" cy="638" r="5"/><text x="517" y="641">RPS6KA3</text></g>
<g id="D_PRKACA"><circle class="p" cx="596" cy="648" r="5"/><text x="596" y="651">PRKACA</text></g>
<g id="D_PDPK1"><circle class="lp" cx="554" cy="653" r="5"/><text x="554" y="656">PDPK1</text></g>
<g id="D_VAV1"><circle class="p" cx="520" cy="699" r="5"/><text x="520" y="702">VAV1</text></g>
<g id="D_AR"><circle class="g" cx="553" cy="700" r="5"/><text x="553" y="703">AR</text></g>
<g id="D_ABL1"><circle class="p" cx="597" cy="695" r="5"/><text x="597" y="698">ABL1</text></g>
</g>
<!-- Panel E nodes -->
<g class="nl E">
<g id="E_EPOR"><circle class="lg" cx="289" cy="723" r="6"/><text x="289" y="726">EPOR</text></g>
<g id="E_S1PR2"><circle class="p" cx="356" cy="723" r="6"/><text x="356" y="726">S1PR2</text></g>
<g id="E_PSEN1"><circle class="lg" cx="403" cy="724" r="6"/><text x="403" y="727">PSEN1</text></g>
<g id="E_GNAI2"><circle class="p" cx="427" cy="739" r="6"/><text x="430" y="742">GNAI2</text></g>
<g id="E_KDR"><circle class="w" cx="458" cy="734" r="5"/><text x="458" y="737">KDR</text></g>
<g id="E_EGFR"><circle class="r" cx="363" cy="747" r="6"/><text x="363" y="750">EGFR</text></g>
<g id="E_CXCR4"><circle class="r" cx="232" cy="759" r="6"/><text x="232" y="762">CXCR4</text></g>
<g id="E_IL2RB"><circle class="r" cx="320" cy="761" r="6"/><text x="320" y="764">IL2RB</text></g>
<g id="E_FYN"><circle class="r" cx="409" cy="761" r="6"/><text x="409" y="764">FYN</text></g>
<g id="E_IL6ST"><circle class="g" cx="354" cy="779" r="6"/><text x="354" y="782">IL6ST</text></g>
<g id="E_PTPRC"><circle class="r" cx="287" cy="794" r="6"/><text x="287" y="797">PTPRC</text></g>
<g id="E_GNAI1"><circle class="p" cx="248" cy="806" r="6"/><text x="248" y="809">GNAI1</text></g>
<g id="E_CALM1"><circle class="r" cx="406" cy="833" r="6"/><text x="406" y="826">CALM1</text><text x="406" y="835">(includes</text><text x="406" y="844">others)</text></g>
<g id="E_CASP7"><circle class="lp" cx="373" cy="841" r="6"/><text x="373" y="844">CASP7</text></g>
<g id="E_UNC119"><circle class="lp" cx="470" cy="843" r="6"/><text x="470" y="846">UNC119</text></g>
<g id="E_GTF2A1"><circle class="lg" cx="217" cy="863" r="6"/><text x="217" y="866">GTF2A1</text></g>
<g id="E_CSNK2A1"><circle class="lg" cx="268" cy="859" r="6"/><text x="268" y="862">CSNK2A1</text></g>
<g id="E_MAPT"><circle class="g" cx="344" cy="865" r="6"/><text x="344" y="868">MAPT</text></g>
<g id="E_ACTB"><circle class="w" cx="392" cy="876" r="5"/><text x="392" y="879">ACTB</text></g>
<g id="E_PSEN2"><circle class="lg" cx="356" cy="883" r="6"/><text x="356" y="886">PSEN2</text></g>
<g id="E_SRC"><circle class="p" cx="410" cy="888" r="6"/><text x="410" y="891">SRC</text></g>
<g id="E_SAT1"><circle class="r" cx="490" cy="893" r="6"/><text x="490" y="896">SAT1</text></g>
<g id="E_MAPK10"><circle class="r" cx="237" cy="901" r="6"/><text x="237" y="904">MAPK10</text></g>
<g id="E_HCK"><circle class="r" cx="440" cy="902" r="6"/><text x="440" y="905">HCK</text></g>
<g id="E_PIK3R1"><circle class="g" cx="328" cy="933" r="6.5"/><text x="328" y="936">PIK3R1</text></g>
<g id="E_SKAP1"><circle class="g" cx="368" cy="933" r="6.5"/><text x="370" y="936">SKAP1</text></g>
<g id="E_CSK"><circle class="r" cx="418" cy="935" r="6"/><text x="418" y="938">CSK</text></g>
<g id="E_CSNK2A2"><circle class="p" cx="263" cy="958" r="6"/><text x="263" y="961">CSNK2A2</text></g>
<g id="E_CDC42"><circle class="g" cx="433" cy="959" r="6"/><text x="433" y="962">CDC42</text></g>
<g id="E_JAK3"><circle class="r" cx="297" cy="973" r="6.5"/><text x="297" y="976">JAK3</text></g>
<g id="E_TUBA4A"><circle class="r" cx="418" cy="973" r="6"/><text x="420" y="976">TUBA4A</text></g>
<g id="E_MAPK1"><circle class="p" cx="218" cy="986" r="6"/><text x="218" y="989">MAPK1</text></g>
<g id="E_CASP6"><circle class="g" cx="262" cy="986" r="6"/><text x="262" y="989">CASP6</text></g>
<g id="E_LCK"><circle class="r" cx="370" cy="988" r="6.5"/><text x="370" y="991">LCK</text></g>
<g id="E_SHC1"><circle class="lg" cx="396" cy="985" r="6"/><text x="396" y="988">SHC1</text></g>
<g id="E_PXN"><circle class="p" cx="462" cy="988" r="6"/><text x="462" y="991">PXN</text></g>
<g id="E_SYK"><circle class="r" cx="308" cy="1002" r="6.5"/><text x="308" y="1005">SYK</text></g>
<g id="E_AR"><circle class="g" cx="405" cy="1034" r="6.5"/><text x="405" y="1037">AR</text></g>
<g id="E_TAF1"><circle class="lg" cx="472" cy="1040" r="6"/><text x="472" y="1043">TAF1</text></g>
<g id="E_LOC"><circle class="g" cx="249" cy="1045" r="6.5"/><text x="248" y="1048">LOC100505603/PNRC2</text></g>
<g id="E_ESR1"><circle class="lg" cx="329" cy="1047" r="6"/><text x="329" y="1050">ESR1</text></g>
<g id="E_SMAD3"><circle class="lg" cx="369" cy="1057" r="6"/><text x="369" y="1060">SMAD3</text></g>
<g id="E_SRF"><circle class="p" cx="300" cy="1070" r="6"/><text x="300" y="1073">SRF</text></g>
<g id="E_NCOA1"><circle class="r" cx="336" cy="1068" r="6"/><text x="336" y="1071">NCOA1</text></g>
<g id="E_SP1"><circle class="g" cx="241" cy="1090" r="6"/><text x="241" y="1093">SP1</text></g>
<g id="E_SMAD4"><circle class="g" cx="344" cy="1084" r="6"/><text x="344" y="1087">SMAD4</text></g>
<g id="E_TAF11"><circle class="lg" cx="450" cy="1085" r="6"/><text x="450" y="1088">TAF11</text></g>
<g id="E_EWSR1"><circle class="lg" cx="517" cy="1078" r="6"/><text x="517" y="1081">EWSR1</text></g>
<g id="E_STAT5B"><circle class="w" cx="307" cy="1097" r="5"/><text x="307" y="1100">STAT5B</text></g>
<g id="E_ABL1"><circle class="p" cx="375" cy="1099" r="6"/><text x="375" y="1102">ABL1</text></g>
<g id="E_TAF8"><circle class="lg" cx="480" cy="1102" r="6"/><text x="480" y="1105">TAF8</text></g>
<g id="E_UBE2I"><circle class="g" cx="429" cy="1108" r="6"/><text x="429" y="1111">UBE2I</text></g>
<g id="E_HSF1"><circle class="r" cx="400" cy="1113" r="6"/><text x="400" y="1116">HSF1</text></g>
<g id="E_RB1"><circle class="w" cx="300" cy="1122" r="5"/><text x="300" y="1125">RB1</text></g>
<g id="E_MCM7"><circle class="p" cx="453" cy="1131" r="6"/><text x="453" y="1134">MCM7</text></g>
<g id="E_SUB1"><circle class="g" cx="345" cy="1134" r="6"/><text x="345" y="1137">SUB1</text></g>
<g id="E_MYC"><circle class="r" cx="260" cy="1145" r="6"/><text x="260" y="1148">MYC</text></g>
</g>
<!-- Legends -->
<g id="legend-width">
<polygon points="563,885 738,873 738,885" fill="#7fb6ee"/>
<line x1="607" y1="880" x2="607" y2="885" stroke="#334" stroke-width="1"/>
<text x="740" y="882" style="font-size:7px;font-weight:bold;text-anchor:start">Edge width</text>
<text x="563" y="892" style="font-size:6.5px">0</text><text x="607" y="892" style="font-size:6.5px">0.8</text><text x="736" y="892" style="font-size:6.5px">2.4</text>
<text x="630" y="899" style="font-size:6.5px">Mutual information</text>
</g>
<g id="legend-color">
<text x="658" y="961" style="font-size:7.5px;font-weight:bold">Log2 fold change (early recurrence / late recurrence)</text>
<rect x="538" y="965" width="240" height="17" fill="url(#fc)"/>
<text x="547" y="996" style="font-size:6.5px">-1.05</text><text x="588" y="996" style="font-size:6.5px">-0.5</text><text x="658" y="996" style="font-size:6.5px">0</text><text x="740" y="996" style="font-size:6.5px">0.5</text><text x="772" y="996" style="font-size:6.5px">0.70</text>
</g>
</svg>
